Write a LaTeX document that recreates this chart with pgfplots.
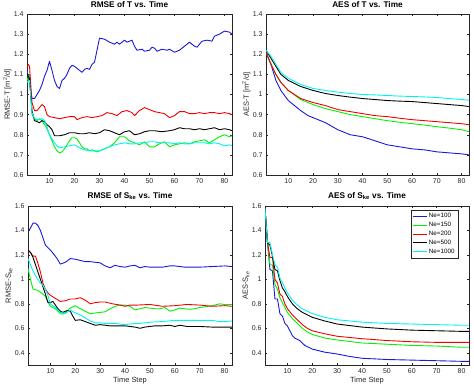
\documentclass[border=0pt]{standalone}
\usepackage{pgfplots}
\pgfplotsset{compat=1.18}
\usepackage{fontspec}
\setmainfont{Liberation Sans}
\definecolor{axgray}{rgb}{0.15,0.15,0.15}
\definecolor{mb}{rgb}{0.1,0.1,0.85}
\definecolor{mg}{rgb}{0,0.95,0}
\definecolor{mr}{rgb}{0.95,0,0}
\definecolor{mk}{rgb}{0,0,0}
\definecolor{mc}{rgb}{0,0.95,0.95}
\pgfplotsset{
  mstyle/.style={
    scale only axis,
    xmin=1, xmax=83,
    xtick={10,20,...,80},
    tick align=inside,
    tick pos=both,
    major tick length=2.5pt,
    axis line style={axgray, line width=0.4pt},
    every tick/.style={axgray, line width=0.4pt},
    tick label style={font=\fontsize{7}{8}\selectfont, text=axgray},
    /pgf/number format/assume math mode=true,
    label style={font=\fontsize{7.5}{8.5}\selectfont, text=axgray},
    title style={font=\fontsize{8.3}{9}\selectfont\bfseries, yshift=-3.5pt},
    ylabel style={yshift=-4.5pt},
    xlabel style={yshift=3.5pt},
    every axis plot/.append style={line width=0.9pt, line join=round},
    clip=true,
  }
}
\begin{document}
\begin{tikzpicture}
% Top-left
\begin{axis}[mstyle, at={(27bp,214bp)}, anchor=south west, width=205bp, height=161bp,
  ymin=0.6, ymax=1.4, ytick={0.6,0.7,...,1.4},
  title={RMSE of T vs. Time}, ylabel={RMSE-T [m\textsuperscript{2}/d]}]
\addplot[mb] coordinates {(1,1.12)(2,1.06)(3,0.98)(4,0.98)(5,1.0)(6,1.02)(7,1.05)(8,1.09)(9,1.12)(10,1.165)(11,1.12)(12,1.07)(13,1.04)(14,1.03)(15,1.07)(16,1.08)(17,1.10)(18,1.13)(19,1.145)(20,1.14)(21,1.13)(22,1.12)(23,1.11)(24,1.125)(25,1.13)(26,1.125)(27,1.15)(28,1.16)(29,1.22)(30,1.28)(32,1.275)(34,1.26)(36,1.25)(37,1.26)(38,1.25)(40,1.27)(41,1.26)(43,1.27)(44,1.24)(45,1.22)(47,1.225)(48,1.215)(50,1.22)(51,1.235)(52,1.23)(53,1.215)(55,1.225)(57,1.22)(58,1.225)(60,1.21)(62,1.22)(64,1.24)(66,1.26)(68,1.24)(69,1.235)(71,1.265)(73,1.27)(75,1.265)(76,1.29)(78,1.30)(80,1.315)(82,1.31)(83,1.30)};
\addplot[mg] coordinates {(1,1.07)(2,1.10)(3,0.90)(4,0.88)(5,0.87)(6,0.88)(7,0.87)(8,0.85)(9,0.83)(10,0.80)(11,0.77)(12,0.74)(13,0.72)(14,0.71)(15,0.715)(16,0.73)(17,0.75)(18,0.77)(19,0.785)(20,0.785)(21,0.78)(22,0.76)(23,0.74)(24,0.73)(25,0.73)(26,0.72)(27,0.725)(28,0.72)(29,0.715)(30,0.72)(32,0.73)(34,0.74)(36,0.76)(38,0.79)(40,0.79)(42,0.77)(44,0.76)(46,0.75)(48,0.765)(50,0.74)(52,0.74)(54,0.755)(56,0.765)(58,0.74)(60,0.75)(62,0.755)(64,0.76)(66,0.755)(68,0.765)(70,0.77)(72,0.775)(74,0.76)(76,0.775)(78,0.79)(80,0.80)(82,0.79)(83,0.795)};
\addplot[mr] coordinates {(1,1.14)(1.5,1.15)(2,1.14)(3,0.96)(4,0.92)(5,0.92)(6,0.935)(7,0.95)(8,0.94)(9,0.90)(10,0.89)(12,0.885)(14,0.88)(16,0.885)(18,0.89)(20,0.89)(21,0.875)(23,0.885)(25,0.89)(27,0.885)(29,0.89)(31,0.895)(33,0.91)(35,0.905)(37,0.895)(39,0.915)(41,0.92)(43,0.91)(44,0.895)(46,0.92)(48,0.935)(50,0.925)(52,0.915)(54,0.91)(56,0.905)(58,0.885)(60,0.895)(62,0.915)(64,0.915)(66,0.905)(68,0.905)(70,0.91)(72,0.905)(74,0.91)(76,0.91)(78,0.905)(80,0.91)(82,0.905)(83,0.90)};
\addplot[mk] coordinates {(1,1.10)(2,1.08)(3,0.92)(4,0.87)(5,0.865)(6,0.86)(7,0.87)(8,0.865)(9,0.85)(10,0.84)(11,0.825)(12,0.795)(14,0.795)(16,0.80)(18,0.81)(20,0.81)(22,0.805)(24,0.805)(26,0.81)(28,0.805)(30,0.81)(32,0.825)(34,0.82)(36,0.81)(38,0.80)(40,0.815)(42,0.82)(44,0.80)(46,0.805)(48,0.815)(50,0.82)(52,0.82)(55,0.815)(58,0.82)(60,0.825)(62,0.835)(64,0.83)(66,0.83)(68,0.825)(70,0.83)(72,0.825)(74,0.83)(76,0.835)(78,0.825)(80,0.83)(82,0.825)(83,0.82)};
\addplot[mc] coordinates {(1,1.06)(2,1.07)(3,0.91)(4,0.88)(5,0.875)(6,0.875)(7,0.88)(8,0.87)(9,0.84)(10,0.80)(11,0.78)(12,0.76)(13,0.745)(14,0.735)(16,0.74)(18,0.745)(20,0.75)(22,0.735)(24,0.725)(26,0.72)(28,0.72)(30,0.72)(32,0.73)(34,0.74)(36,0.75)(38,0.755)(40,0.76)(42,0.755)(44,0.755)(46,0.76)(48,0.76)(50,0.765)(52,0.765)(54,0.76)(56,0.76)(58,0.76)(60,0.755)(62,0.76)(64,0.755)(66,0.755)(68,0.76)(70,0.76)(72,0.76)(74,0.755)(76,0.76)(78,0.755)(80,0.745)(82,0.75)(83,0.745)};
\end{axis}
% Top-right
\begin{axis}[mstyle, at={(266bp,214bp)}, anchor=south west, width=203bp, height=161bp,
  ymin=0.6, ymax=1.4, ytick={0.6,0.7,...,1.4},
  title={AES of T vs. Time}, ylabel={AES-T [m\textsuperscript{2}/d]}]
\addplot[mb] coordinates {(1,1.21)(3,1.15)(5,1.07)(7,1.02)(10,0.97)(15,0.92)(18,0.895)(20,0.885)(25,0.86)(30,0.825)(35,0.80)(40,0.79)(45,0.77)(50,0.75)(55,0.74)(60,0.73)(65,0.725)(70,0.715)(75,0.71)(80,0.705)(83,0.70)};
\addplot[mg] coordinates {(1,1.21)(3,1.15)(5,1.10)(7,1.06)(10,1.02)(15,0.975)(20,0.95)(25,0.93)(30,0.915)(35,0.90)(40,0.89)(45,0.88)(50,0.87)(55,0.862)(60,0.855)(65,0.848)(70,0.84)(75,0.833)(80,0.825)(83,0.815)};
\addplot[mr] coordinates {(1,1.21)(3,1.15)(5,1.10)(7,1.06)(10,1.02)(15,0.98)(20,0.96)(25,0.945)(30,0.925)(35,0.915)(40,0.905)(45,0.895)(50,0.89)(55,0.882)(60,0.875)(65,0.87)(70,0.865)(75,0.86)(80,0.855)(83,0.85)};
\addplot[mk] coordinates {(1,1.22)(3,1.18)(5,1.14)(7,1.10)(10,1.07)(15,1.04)(20,1.02)(25,1.005)(30,0.995)(35,0.987)(40,0.98)(45,0.975)(50,0.97)(55,0.967)(60,0.965)(65,0.96)(70,0.955)(75,0.95)(80,0.945)(83,0.94)};
\addplot[mc] coordinates {(1,1.22)(3,1.19)(5,1.15)(7,1.11)(10,1.08)(15,1.05)(20,1.03)(25,1.02)(30,1.012)(35,1.005)(40,1.0)(45,0.998)(50,0.995)(55,0.992)(60,0.99)(65,0.988)(70,0.985)(75,0.98)(80,0.975)(83,0.972)};
\end{axis}
% Bottom-left
\begin{axis}[mstyle, at={(28bp,24bp)}, anchor=south west, width=204bp, height=159bp,
  ymin=0.3, ymax=1.6, ytick={0.4,0.6,...,1.6},
  yticklabels={0.4,0.6,0.8,1,1.2,1.4,1.6},
  title={RMSE of S\textsubscript{ke} vs. Time}, ylabel={RMSE-S\textsubscript{ke}}, xlabel={Time Step}]
\addplot[mb] coordinates {(1,1.39)(2,1.42)(3,1.46)(4,1.46)(5,1.44)(6,1.40)(7,1.34)(8,1.28)(10,1.24)(12,1.19)(13,1.16)(14,1.125)(16,1.14)(18,1.17)(20,1.165)(22,1.155)(24,1.145)(26,1.145)(28,1.14)(30,1.135)(32,1.11)(34,1.095)(36,1.115)(38,1.105)(40,1.10)(42,1.11)(44,1.115)(46,1.095)(48,1.105)(50,1.10)(52,1.10)(55,1.10)(58,1.11)(60,1.11)(62,1.105)(64,1.10)(66,1.10)(70,1.10)(75,1.105)(80,1.11)(83,1.105)};
\addplot[mg] coordinates {(1,1.09)(2,1.00)(3,0.92)(5,0.91)(7,0.88)(8,0.86)(9,0.82)(10,0.78)(12,0.76)(14,0.72)(15,0.715)(16,0.73)(18,0.765)(20,0.785)(22,0.76)(24,0.74)(26,0.72)(28,0.725)(30,0.73)(32,0.735)(34,0.76)(36,0.78)(38,0.79)(40,0.79)(42,0.78)(44,0.75)(46,0.76)(48,0.77)(50,0.765)(52,0.76)(54,0.76)(56,0.77)(58,0.74)(60,0.75)(62,0.765)(64,0.76)(66,0.755)(68,0.76)(70,0.77)(72,0.775)(75,0.785)(78,0.80)(80,0.795)(83,0.795)};
\addplot[mr] coordinates {(1,1.24)(2,1.22)(3,1.19)(4,1.19)(5,1.13)(6,1.06)(7,0.97)(8,0.92)(9,0.89)(10,0.87)(12,0.845)(14,0.82)(16,0.825)(18,0.84)(20,0.84)(22,0.85)(24,0.83)(26,0.80)(28,0.81)(30,0.815)(32,0.815)(35,0.80)(38,0.79)(40,0.78)(42,0.79)(45,0.79)(50,0.795)(55,0.78)(60,0.785)(65,0.795)(70,0.79)(75,0.78)(80,0.785)(83,0.78)};
\addplot[mk] coordinates {(1,1.24)(2,1.22)(3,1.18)(4,1.12)(5,1.06)(6,1.00)(7,0.94)(8,0.88)(9,0.81)(10,0.81)(11,0.82)(12,0.79)(13,0.76)(14,0.74)(15,0.73)(16,0.74)(17,0.745)(18,0.74)(19,0.70)(20,0.665)(22,0.67)(24,0.655)(26,0.64)(28,0.625)(30,0.63)(32,0.625)(34,0.62)(36,0.62)(40,0.62)(42,0.615)(44,0.61)(46,0.60)(48,0.61)(50,0.615)(52,0.62)(55,0.62)(58,0.625)(60,0.615)(62,0.625)(65,0.615)(70,0.615)(75,0.61)(80,0.61)(83,0.61)};
\addplot[mc] coordinates {(1,1.17)(2,1.12)(3,1.07)(4,1.03)(5,1.00)(6,0.97)(7,0.95)(8,0.92)(9,0.87)(10,0.80)(12,0.77)(14,0.73)(16,0.72)(18,0.75)(20,0.725)(22,0.71)(24,0.685)(26,0.66)(28,0.645)(30,0.645)(32,0.64)(34,0.64)(36,0.64)(38,0.635)(40,0.63)(42,0.635)(44,0.64)(46,0.64)(48,0.645)(50,0.65)(55,0.655)(60,0.665)(65,0.665)(70,0.665)(75,0.665)(78,0.655)(80,0.655)(83,0.66)};
\end{axis}
% Bottom-right
\begin{axis}[mstyle, at={(265bp,24bp)}, anchor=south west, width=204bp, height=159bp,
  ymin=0.3, ymax=1.6, ytick={0.4,0.6,...,1.6},
  yticklabels={0.4,0.6,0.8,1,1.2,1.4,1.6},
  title={AES of S\textsubscript{ke} vs. Time}, ylabel={AES-S\textsubscript{ke}}, xlabel={Time Step},
  legend style={at={(0.946,0.975)}, anchor=north east, font=\fontsize{6.3}{7}\selectfont, draw=axgray, line width=0.4pt, inner sep=1.2pt, row sep=-1pt, cells={anchor=west}},
  legend image post style={line width=0.8pt},
  legend image code/.code={\draw[#1] (0cm,0cm) -- (0.48cm,0cm);}]
\addplot[mb] coordinates {(1,1.58)(2,1.30)(3,1.08)(4,1.07)(5,0.84)(6,0.84)(7,0.72)(8,0.70)(9,0.64)(10,0.62)(11,0.58)(12,0.54)(13,0.52)(15,0.50)(17,0.46)(20,0.43)(25,0.405)(30,0.39)(35,0.37)(40,0.355)(50,0.345)(60,0.34)(70,0.335)(80,0.33)(83,0.33)};
\addlegendentry{Ne=100}
\addplot[mg] coordinates {(1,1.58)(2,1.30)(3,1.12)(4,1.12)(5,0.96)(6,0.92)(7,0.85)(8,0.81)(9,0.77)(10,0.73)(12,0.68)(14,0.64)(16,0.60)(18,0.57)(20,0.55)(25,0.52)(30,0.505)(40,0.48)(50,0.47)(60,0.46)(70,0.455)(80,0.445)(83,0.445)};
\addlegendentry{Ne=150}
\addplot[mr] coordinates {(1,1.58)(2,1.30)(3,1.18)(4,1.18)(5,1.00)(6,0.97)(7,0.88)(8,0.86)(9,0.80)(10,0.76)(12,0.71)(14,0.67)(16,0.63)(18,0.60)(20,0.58)(25,0.555)(30,0.535)(40,0.515)(50,0.50)(60,0.49)(70,0.485)(80,0.485)(83,0.485)};
\addlegendentry{Ne=200}
\addplot[mk] coordinates {(1,1.58)(2,1.30)(3,1.28)(4,1.19)(5,1.08)(6,1.07)(7,0.99)(8,0.93)(9,0.90)(10,0.86)(12,0.80)(14,0.76)(16,0.73)(18,0.71)(20,0.69)(25,0.66)(30,0.635)(40,0.61)(50,0.595)(60,0.585)(70,0.58)(80,0.575)(83,0.575)};
\addlegendentry{Ne=500}
\addplot[mc] coordinates {(1,1.58)(2,1.30)(3,1.30)(4,1.20)(5,1.12)(6,1.10)(7,1.01)(8,0.97)(9,0.93)(10,0.89)(12,0.83)(14,0.79)(16,0.76)(18,0.74)(20,0.72)(25,0.69)(30,0.67)(40,0.65)(50,0.64)(60,0.635)(70,0.63)(80,0.625)(83,0.625)};
\addlegendentry{Ne=1000}
\end{axis}
\pgfresetboundingbox
\path (0,0) rectangle (474bp,389bp);
\end{tikzpicture}
\end{document}
